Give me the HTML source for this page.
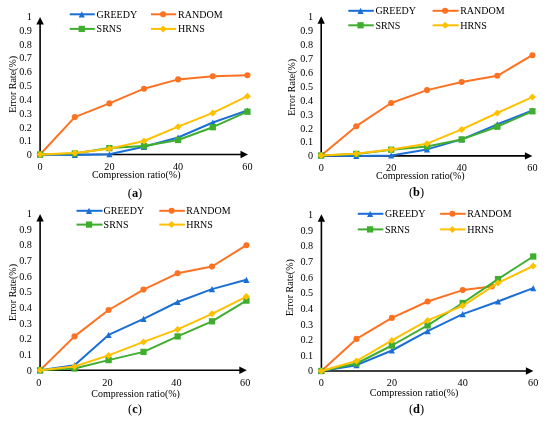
<!DOCTYPE html>
<html><head><meta charset="utf-8"><title>Error rate vs compression ratio</title>
<style>
html,body{margin:0;padding:0;background:#fff;}
body{width:550px;height:421px;overflow:hidden;}
svg{display:block;font-family:"Liberation Serif", serif;fill:#000;}
</style></head><body>
<svg width="550" height="421" viewBox="0 0 550 421">
<rect x="0" y="0" width="550" height="421" fill="#fff"/>
<g id="chart-a">
<line x1="40.1" y1="155.1" x2="40.1" y2="22.0" stroke="#000" stroke-width="1.6"/>
<polygon points="40.1,17.0 43.800000000000004,24.5 36.4,24.5" fill="#000"/>
<line x1="39.5" y1="154.5" x2="243.0" y2="154.5" stroke="#000" stroke-width="1.6"/>
<polygon points="248.0,154.5 240.5,150.8 240.5,158.2" fill="#000"/>
<text x="31.9" y="158.2" text-anchor="end" font-size="10.2">0</text>
<text x="31.9" y="144.4" text-anchor="end" font-size="10.2">0.1</text>
<text x="31.9" y="130.5" text-anchor="end" font-size="10.2">0.2</text>
<text x="31.9" y="116.7" text-anchor="end" font-size="10.2">0.3</text>
<text x="31.9" y="102.8" text-anchor="end" font-size="10.2">0.4</text>
<text x="31.9" y="89.0" text-anchor="end" font-size="10.2">0.5</text>
<text x="31.9" y="75.2" text-anchor="end" font-size="10.2">0.6</text>
<text x="31.9" y="61.3" text-anchor="end" font-size="10.2">0.7</text>
<text x="31.9" y="47.5" text-anchor="end" font-size="10.2">0.8</text>
<text x="31.9" y="33.6" text-anchor="end" font-size="10.2">0.9</text>
<text x="31.9" y="19.8" text-anchor="end" font-size="10.2">1</text>
<text x="40.1" y="169.8" text-anchor="middle" font-size="10.2">0</text>
<text x="109.4" y="169.8" text-anchor="middle" font-size="10.2">20</text>
<text x="178.1" y="169.8" text-anchor="middle" font-size="10.2">40</text>
<text x="247.4" y="169.8" text-anchor="middle" font-size="10.2">60</text>
<polyline points="40.1,154.5 74.8,154.9 109.4,154.2 144.0,146.8 178.1,137.5 212.8,122.5 247.4,110.4" fill="none" stroke="#1a6fd6" stroke-width="2.0" stroke-linejoin="round" stroke-linecap="round"/>
<polygon points="40.1,151.4 43.1,157.6 37.1,157.6" fill="#1a6fd6"/>
<polygon points="74.8,151.8 77.8,158.0 71.8,158.0" fill="#1a6fd6"/>
<polygon points="109.4,151.2 112.5,157.3 106.4,157.3" fill="#1a6fd6"/>
<polygon points="144.0,143.8 147.1,149.9 140.9,149.9" fill="#1a6fd6"/>
<polygon points="178.1,134.4 181.2,140.6 175.0,140.6" fill="#1a6fd6"/>
<polygon points="212.8,119.5 215.9,125.5 209.8,125.5" fill="#1a6fd6"/>
<polygon points="247.4,107.4 250.5,113.5 244.3,113.5" fill="#1a6fd6"/>
<polyline points="40.1,154.5 74.8,117.1 109.4,103.4 144.0,88.7 178.1,79.4 212.8,76.2 247.4,75.2" fill="none" stroke="#fd7222" stroke-width="2.0" stroke-linejoin="round" stroke-linecap="round"/>
<circle cx="40.1" cy="154.5" r="3.05" fill="#fd7222"/>
<circle cx="74.8" cy="117.1" r="3.05" fill="#fd7222"/>
<circle cx="109.4" cy="103.4" r="3.05" fill="#fd7222"/>
<circle cx="144.0" cy="88.7" r="3.05" fill="#fd7222"/>
<circle cx="178.1" cy="79.4" r="3.05" fill="#fd7222"/>
<circle cx="212.8" cy="76.2" r="3.05" fill="#fd7222"/>
<circle cx="247.4" cy="75.2" r="3.05" fill="#fd7222"/>
<polyline points="40.1,154.5 74.8,153.5 109.4,148.1 144.0,146.1 178.1,140.0 212.8,127.2 247.4,111.7" fill="none" stroke="#3fae2f" stroke-width="2.0" stroke-linejoin="round" stroke-linecap="round"/>
<rect x="36.96" y="151.36" width="6.28" height="6.28" fill="#3fae2f"/>
<rect x="71.66" y="150.36" width="6.28" height="6.28" fill="#3fae2f"/>
<rect x="106.26" y="144.96" width="6.28" height="6.28" fill="#3fae2f"/>
<rect x="140.86" y="142.96" width="6.28" height="6.28" fill="#3fae2f"/>
<rect x="174.96" y="136.86" width="6.28" height="6.28" fill="#3fae2f"/>
<rect x="209.66" y="124.06" width="6.28" height="6.28" fill="#3fae2f"/>
<rect x="244.26" y="108.56" width="6.28" height="6.28" fill="#3fae2f"/>
<polyline points="40.1,154.5 74.8,153.1 109.4,148.8 144.0,141.0 178.1,126.7 212.8,112.9 247.4,96.2" fill="none" stroke="#ffc000" stroke-width="2.0" stroke-linejoin="round" stroke-linecap="round"/>
<polygon points="40.1,151.0 43.6,154.5 40.1,158.0 36.6,154.5" fill="#ffc000"/>
<polygon points="74.8,149.6 78.3,153.1 74.8,156.6 71.3,153.1" fill="#ffc000"/>
<polygon points="109.4,145.3 112.9,148.8 109.4,152.3 105.9,148.8" fill="#ffc000"/>
<polygon points="144.0,137.5 147.5,141.0 144.0,144.5 140.5,141.0" fill="#ffc000"/>
<polygon points="178.1,123.2 181.6,126.7 178.1,130.2 174.6,126.7" fill="#ffc000"/>
<polygon points="212.8,109.4 216.3,112.9 212.8,116.4 209.3,112.9" fill="#ffc000"/>
<polygon points="247.4,92.7 250.9,96.2 247.4,99.7 243.9,96.2" fill="#ffc000"/>
<line x1="69.7" y1="14.3" x2="94.8" y2="14.3" stroke="#1a6fd6" stroke-width="2.0"/>
<polygon points="81.8,11.2 84.8,17.4 78.7,17.4" fill="#1a6fd6"/>
<text x="96.6" y="17.7" font-size="10">GREEDY</text>
<line x1="151.0" y1="14.3" x2="176.1" y2="14.3" stroke="#fd7222" stroke-width="2.0"/>
<circle cx="163.1" cy="14.3" r="3.05" fill="#fd7222"/>
<text x="178.1" y="17.7" font-size="10">RANDOM</text>
<line x1="69.7" y1="28.9" x2="94.8" y2="28.9" stroke="#3fae2f" stroke-width="2.0"/>
<rect x="78.61" y="25.76" width="6.28" height="6.28" fill="#3fae2f"/>
<text x="96.6" y="32.3" font-size="10">SRNS</text>
<line x1="151.0" y1="28.9" x2="176.1" y2="28.9" stroke="#ffc000" stroke-width="2.0"/>
<polygon points="163.1,25.4 166.6,28.9 163.1,32.4 159.5,28.9" fill="#ffc000"/>
<text x="178.1" y="32.3" font-size="10">HRNS</text>
<text x="136.2" y="178.3" text-anchor="middle" font-size="10">Compression ratio(%)</text>
<text transform="translate(15.7,84.4) rotate(-90)" text-anchor="middle" font-size="10">Error Rate(%)</text>
<text x="135.0" y="196.6" text-anchor="middle" font-size="12.4">(<tspan font-weight="bold">a</tspan>)</text>
</g>
<g id="chart-b">
<line x1="321.2" y1="156.5" x2="321.2" y2="21.3" stroke="#000" stroke-width="1.6"/>
<polygon points="321.2,16.3 324.9,23.8 317.5,23.8" fill="#000"/>
<line x1="320.59999999999997" y1="155.9" x2="527.4" y2="155.9" stroke="#000" stroke-width="1.6"/>
<polygon points="532.4,155.9 524.9,152.20000000000002 524.9,159.6" fill="#000"/>
<text x="313.0" y="159.4" text-anchor="end" font-size="10.2">0</text>
<text x="313.0" y="145.4" text-anchor="end" font-size="10.2">0.1</text>
<text x="313.0" y="131.5" text-anchor="end" font-size="10.2">0.2</text>
<text x="313.0" y="117.5" text-anchor="end" font-size="10.2">0.3</text>
<text x="313.0" y="103.6" text-anchor="end" font-size="10.2">0.4</text>
<text x="313.0" y="89.6" text-anchor="end" font-size="10.2">0.5</text>
<text x="313.0" y="75.6" text-anchor="end" font-size="10.2">0.6</text>
<text x="313.0" y="61.7" text-anchor="end" font-size="10.2">0.7</text>
<text x="313.0" y="47.7" text-anchor="end" font-size="10.2">0.8</text>
<text x="313.0" y="33.8" text-anchor="end" font-size="10.2">0.9</text>
<text x="313.0" y="19.8" text-anchor="end" font-size="10.2">1</text>
<text x="321.2" y="171.0" text-anchor="middle" font-size="10.2">0</text>
<text x="391.2" y="171.0" text-anchor="middle" font-size="10.2">20</text>
<text x="461.7" y="171.0" text-anchor="middle" font-size="10.2">40</text>
<text x="532.4" y="171.0" text-anchor="middle" font-size="10.2">60</text>
<polyline points="321.2,155.5 356.3,156.0 391.2,155.5 427.0,149.4 461.7,139.4 497.3,124.3 532.4,110.5" fill="none" stroke="#1a6fd6" stroke-width="2.0" stroke-linejoin="round" stroke-linecap="round"/>
<polygon points="321.2,152.4 324.2,158.6 318.1,158.6" fill="#1a6fd6"/>
<polygon points="356.3,152.9 359.4,159.1 353.2,159.1" fill="#1a6fd6"/>
<polygon points="391.2,152.4 394.2,158.6 388.1,158.6" fill="#1a6fd6"/>
<polygon points="427.0,146.3 430.1,152.5 423.9,152.5" fill="#1a6fd6"/>
<polygon points="461.7,136.3 464.8,142.5 458.6,142.5" fill="#1a6fd6"/>
<polygon points="497.3,121.2 500.4,127.3 494.2,127.3" fill="#1a6fd6"/>
<polygon points="532.4,107.5 535.4,113.5 529.4,113.5" fill="#1a6fd6"/>
<polyline points="321.2,155.5 356.3,126.2 391.2,103.0 427.0,90.1 461.7,82.0 497.3,75.8 532.4,55.2" fill="none" stroke="#fd7222" stroke-width="2.0" stroke-linejoin="round" stroke-linecap="round"/>
<circle cx="321.2" cy="155.5" r="3.05" fill="#fd7222"/>
<circle cx="356.3" cy="126.2" r="3.05" fill="#fd7222"/>
<circle cx="391.2" cy="103.0" r="3.05" fill="#fd7222"/>
<circle cx="427.0" cy="90.1" r="3.05" fill="#fd7222"/>
<circle cx="461.7" cy="82.0" r="3.05" fill="#fd7222"/>
<circle cx="497.3" cy="75.8" r="3.05" fill="#fd7222"/>
<circle cx="532.4" cy="55.2" r="3.05" fill="#fd7222"/>
<polyline points="321.2,155.5 356.3,153.9 391.2,149.7 427.0,146.4 461.7,139.4 497.3,126.7 532.4,111.3" fill="none" stroke="#3fae2f" stroke-width="2.0" stroke-linejoin="round" stroke-linecap="round"/>
<rect x="318.06" y="152.36" width="6.28" height="6.28" fill="#3fae2f"/>
<rect x="353.16" y="150.76" width="6.28" height="6.28" fill="#3fae2f"/>
<rect x="388.06" y="146.56" width="6.28" height="6.28" fill="#3fae2f"/>
<rect x="423.86" y="143.26" width="6.28" height="6.28" fill="#3fae2f"/>
<rect x="458.56" y="136.26" width="6.28" height="6.28" fill="#3fae2f"/>
<rect x="494.16" y="123.56" width="6.28" height="6.28" fill="#3fae2f"/>
<rect x="529.26" y="108.16" width="6.28" height="6.28" fill="#3fae2f"/>
<polyline points="321.2,155.5 356.3,153.7 391.2,149.4 427.0,143.7 461.7,129.4 497.3,113.0 532.4,97.1" fill="none" stroke="#ffc000" stroke-width="2.0" stroke-linejoin="round" stroke-linecap="round"/>
<polygon points="321.2,152.0 324.7,155.5 321.2,159.0 317.7,155.5" fill="#ffc000"/>
<polygon points="356.3,150.2 359.8,153.7 356.3,157.2 352.8,153.7" fill="#ffc000"/>
<polygon points="391.2,145.9 394.7,149.4 391.2,152.9 387.7,149.4" fill="#ffc000"/>
<polygon points="427.0,140.2 430.5,143.7 427.0,147.2 423.5,143.7" fill="#ffc000"/>
<polygon points="461.7,125.9 465.2,129.4 461.7,132.9 458.2,129.4" fill="#ffc000"/>
<polygon points="497.3,109.5 500.8,113.0 497.3,116.5 493.8,113.0" fill="#ffc000"/>
<polygon points="532.4,93.6 535.9,97.1 532.4,100.6 528.9,97.1" fill="#ffc000"/>
<line x1="348.3" y1="10.8" x2="373.8" y2="10.8" stroke="#1a6fd6" stroke-width="2.0"/>
<polygon points="360.6,7.8 363.6,13.9 357.5,13.9" fill="#1a6fd6"/>
<text x="375.4" y="14.2" font-size="10">GREEDY</text>
<line x1="432.6" y1="10.8" x2="458.7" y2="10.8" stroke="#fd7222" stroke-width="2.0"/>
<circle cx="445.1" cy="10.8" r="3.05" fill="#fd7222"/>
<text x="460.2" y="14.2" font-size="10">RANDOM</text>
<line x1="348.3" y1="25.3" x2="373.8" y2="25.3" stroke="#3fae2f" stroke-width="2.0"/>
<rect x="357.41" y="22.16" width="6.28" height="6.28" fill="#3fae2f"/>
<text x="375.4" y="28.7" font-size="10">SRNS</text>
<line x1="432.6" y1="25.3" x2="458.7" y2="25.3" stroke="#ffc000" stroke-width="2.0"/>
<polygon points="445.1,21.8 448.7,25.3 445.1,28.8 441.6,25.3" fill="#ffc000"/>
<text x="460.2" y="28.7" font-size="10">HRNS</text>
<text x="420.4" y="178.8" text-anchor="middle" font-size="10">Compression ratio(%)</text>
<text transform="translate(295.1,87.3) rotate(-90)" text-anchor="middle" font-size="10">Error Rate(%)</text>
<text x="416.5" y="196.1" text-anchor="middle" font-size="12.4">(<tspan font-weight="bold">b</tspan>)</text>
</g>
<g id="chart-c">
<line x1="40.1" y1="370.90000000000003" x2="40.1" y2="219.0" stroke="#000" stroke-width="1.6"/>
<polygon points="40.1,214.0 43.800000000000004,221.5 36.4,221.5" fill="#000"/>
<line x1="39.5" y1="370.3" x2="241.8" y2="370.3" stroke="#000" stroke-width="1.6"/>
<polygon points="246.8,370.3 239.3,366.6 239.3,374.0" fill="#000"/>
<text x="31.9" y="373.5" text-anchor="end" font-size="10.2">0</text>
<text x="31.9" y="357.9" text-anchor="end" font-size="10.2">0.1</text>
<text x="31.9" y="342.2" text-anchor="end" font-size="10.2">0.2</text>
<text x="31.9" y="326.6" text-anchor="end" font-size="10.2">0.3</text>
<text x="31.9" y="310.9" text-anchor="end" font-size="10.2">0.4</text>
<text x="31.9" y="295.3" text-anchor="end" font-size="10.2">0.5</text>
<text x="31.9" y="279.7" text-anchor="end" font-size="10.2">0.6</text>
<text x="31.9" y="264.0" text-anchor="end" font-size="10.2">0.7</text>
<text x="31.9" y="248.4" text-anchor="end" font-size="10.2">0.8</text>
<text x="31.9" y="232.7" text-anchor="end" font-size="10.2">0.9</text>
<text x="31.9" y="217.1" text-anchor="end" font-size="10.2">1</text>
<text x="38.9" y="385.7" text-anchor="middle" font-size="10.2">0</text>
<text x="107.4" y="385.7" text-anchor="middle" font-size="10.2">20</text>
<text x="176.4" y="385.7" text-anchor="middle" font-size="10.2">40</text>
<text x="245.2" y="385.7" text-anchor="middle" font-size="10.2">60</text>
<polyline points="40.1,370.3 74.5,365.2 108.6,334.9 143.5,318.8 177.6,302.0 212.0,289.1 246.4,279.8" fill="none" stroke="#1a6fd6" stroke-width="2.0" stroke-linejoin="round" stroke-linecap="round"/>
<polygon points="40.1,367.2 43.1,373.4 37.1,373.4" fill="#1a6fd6"/>
<polygon points="74.5,362.1 77.5,368.2 71.5,368.2" fill="#1a6fd6"/>
<polygon points="108.6,331.8 111.6,337.9 105.5,337.9" fill="#1a6fd6"/>
<polygon points="143.5,315.8 146.6,321.9 140.4,321.9" fill="#1a6fd6"/>
<polygon points="177.6,298.9 180.7,305.1 174.5,305.1" fill="#1a6fd6"/>
<polygon points="212.0,286.1 215.1,292.2 208.9,292.2" fill="#1a6fd6"/>
<polygon points="246.4,276.8 249.5,282.9 243.3,282.9" fill="#1a6fd6"/>
<polyline points="40.1,370.3 74.5,336.4 108.6,310.0 143.5,289.6 177.6,273.3 212.0,266.5 246.4,245.2" fill="none" stroke="#fd7222" stroke-width="2.0" stroke-linejoin="round" stroke-linecap="round"/>
<circle cx="40.1" cy="370.3" r="3.05" fill="#fd7222"/>
<circle cx="74.5" cy="336.4" r="3.05" fill="#fd7222"/>
<circle cx="108.6" cy="310.0" r="3.05" fill="#fd7222"/>
<circle cx="143.5" cy="289.6" r="3.05" fill="#fd7222"/>
<circle cx="177.6" cy="273.3" r="3.05" fill="#fd7222"/>
<circle cx="212.0" cy="266.5" r="3.05" fill="#fd7222"/>
<circle cx="246.4" cy="245.2" r="3.05" fill="#fd7222"/>
<polyline points="40.1,370.3 74.5,368.5 108.6,360.1 143.5,351.9 177.6,336.4 212.0,321.3 246.4,300.6" fill="none" stroke="#3fae2f" stroke-width="2.0" stroke-linejoin="round" stroke-linecap="round"/>
<rect x="36.96" y="367.16" width="6.28" height="6.28" fill="#3fae2f"/>
<rect x="71.36" y="365.36" width="6.28" height="6.28" fill="#3fae2f"/>
<rect x="105.46" y="356.96" width="6.28" height="6.28" fill="#3fae2f"/>
<rect x="140.36" y="348.76" width="6.28" height="6.28" fill="#3fae2f"/>
<rect x="174.46" y="333.26" width="6.28" height="6.28" fill="#3fae2f"/>
<rect x="208.86" y="318.16" width="6.28" height="6.28" fill="#3fae2f"/>
<rect x="243.26" y="297.46" width="6.28" height="6.28" fill="#3fae2f"/>
<polyline points="40.1,370.3 74.5,366.5 108.6,355.4 143.5,341.9 177.6,329.4 212.0,313.8 246.4,296.6" fill="none" stroke="#ffc000" stroke-width="2.0" stroke-linejoin="round" stroke-linecap="round"/>
<polygon points="40.1,366.8 43.6,370.3 40.1,373.8 36.6,370.3" fill="#ffc000"/>
<polygon points="74.5,363.0 78.0,366.5 74.5,370.0 71.0,366.5" fill="#ffc000"/>
<polygon points="108.6,351.9 112.1,355.4 108.6,358.9 105.1,355.4" fill="#ffc000"/>
<polygon points="143.5,338.4 147.0,341.9 143.5,345.4 140.0,341.9" fill="#ffc000"/>
<polygon points="177.6,325.9 181.1,329.4 177.6,332.9 174.1,329.4" fill="#ffc000"/>
<polygon points="212.0,310.3 215.5,313.8 212.0,317.3 208.5,313.8" fill="#ffc000"/>
<polygon points="246.4,293.1 249.9,296.6 246.4,300.1 242.9,296.6" fill="#ffc000"/>
<line x1="76.5" y1="210.8" x2="102.6" y2="210.8" stroke="#1a6fd6" stroke-width="2.0"/>
<polygon points="89.0,207.8 92.1,213.9 86.0,213.9" fill="#1a6fd6"/>
<text x="103.6" y="214.2" font-size="10">GREEDY</text>
<line x1="159.3" y1="210.8" x2="184.9" y2="210.8" stroke="#fd7222" stroke-width="2.0"/>
<circle cx="171.6" cy="210.8" r="3.05" fill="#fd7222"/>
<text x="186.2" y="214.2" font-size="10">RANDOM</text>
<line x1="76.5" y1="224.6" x2="102.6" y2="224.6" stroke="#3fae2f" stroke-width="2.0"/>
<rect x="85.91" y="221.46" width="6.28" height="6.28" fill="#3fae2f"/>
<text x="103.6" y="228.0" font-size="10">SRNS</text>
<line x1="159.3" y1="224.6" x2="184.9" y2="224.6" stroke="#ffc000" stroke-width="2.0"/>
<polygon points="171.6,221.1 175.1,224.6 171.6,228.1 168.1,224.6" fill="#ffc000"/>
<text x="186.2" y="228.0" font-size="10">HRNS</text>
<text x="135.6" y="396.6" text-anchor="middle" font-size="10">Compression ratio(%)</text>
<text transform="translate(15.7,292.5) rotate(-90)" text-anchor="middle" font-size="10">Error Rate(%)</text>
<text x="135.0" y="413.2" text-anchor="middle" font-size="12.4">(<tspan font-weight="bold">c</tspan>)</text>
</g>
<g id="chart-d">
<line x1="321.4" y1="371.6" x2="321.4" y2="219.3" stroke="#000" stroke-width="1.6"/>
<polygon points="321.4,214.3 325.09999999999997,221.8 317.7,221.8" fill="#000"/>
<line x1="320.79999999999995" y1="371.0" x2="528.4" y2="371.0" stroke="#000" stroke-width="1.6"/>
<polygon points="533.4,371.0 525.9,367.3 525.9,374.7" fill="#000"/>
<text x="313.2" y="374.4" text-anchor="end" font-size="10.2">0</text>
<text x="313.2" y="358.8" text-anchor="end" font-size="10.2">0.1</text>
<text x="313.2" y="343.1" text-anchor="end" font-size="10.2">0.2</text>
<text x="313.2" y="327.5" text-anchor="end" font-size="10.2">0.3</text>
<text x="313.2" y="311.8" text-anchor="end" font-size="10.2">0.4</text>
<text x="313.2" y="296.2" text-anchor="end" font-size="10.2">0.5</text>
<text x="313.2" y="280.6" text-anchor="end" font-size="10.2">0.6</text>
<text x="313.2" y="264.9" text-anchor="end" font-size="10.2">0.7</text>
<text x="313.2" y="249.3" text-anchor="end" font-size="10.2">0.8</text>
<text x="313.2" y="233.6" text-anchor="end" font-size="10.2">0.9</text>
<text x="313.2" y="218.0" text-anchor="end" font-size="10.2">1</text>
<text x="321.4" y="385.8" text-anchor="middle" font-size="10.2">0</text>
<text x="391.9" y="385.8" text-anchor="middle" font-size="10.2">20</text>
<text x="462.7" y="385.8" text-anchor="middle" font-size="10.2">40</text>
<text x="533.2" y="385.8" text-anchor="middle" font-size="10.2">60</text>
<polyline points="321.4,371.0 356.5,365.2 391.9,350.5 427.6,331.2 462.7,314.1 498.0,301.5 533.2,288.1" fill="none" stroke="#1a6fd6" stroke-width="2.0" stroke-linejoin="round" stroke-linecap="round"/>
<polygon points="321.4,367.9 324.4,374.1 318.3,374.1" fill="#1a6fd6"/>
<polygon points="356.5,362.1 359.6,368.2 353.4,368.2" fill="#1a6fd6"/>
<polygon points="391.9,347.4 394.9,353.6 388.8,353.6" fill="#1a6fd6"/>
<polygon points="427.6,328.1 430.7,334.2 424.6,334.2" fill="#1a6fd6"/>
<polygon points="462.7,311.1 465.8,317.2 459.6,317.2" fill="#1a6fd6"/>
<polygon points="498.0,298.4 501.1,304.6 494.9,304.6" fill="#1a6fd6"/>
<polygon points="533.2,285.1 536.2,291.2 530.2,291.2" fill="#1a6fd6"/>
<polyline points="321.4,371.0 356.5,338.9 391.9,317.9 427.6,301.5 462.7,290.1 491.8,286.4" fill="none" stroke="#fd7222" stroke-width="2.0" stroke-linejoin="round" stroke-linecap="round"/>
<circle cx="321.4" cy="371.0" r="3.05" fill="#fd7222"/>
<circle cx="356.5" cy="338.9" r="3.05" fill="#fd7222"/>
<circle cx="391.9" cy="317.9" r="3.05" fill="#fd7222"/>
<circle cx="427.6" cy="301.5" r="3.05" fill="#fd7222"/>
<circle cx="462.7" cy="290.1" r="3.05" fill="#fd7222"/>
<circle cx="491.8" cy="286.4" r="3.05" fill="#fd7222"/>
<polyline points="321.4,371.0 356.5,363.5 391.9,345.5 427.6,325.4 462.7,303.0 498.0,279.1 533.2,256.5" fill="none" stroke="#3fae2f" stroke-width="2.0" stroke-linejoin="round" stroke-linecap="round"/>
<rect x="318.26" y="367.86" width="6.28" height="6.28" fill="#3fae2f"/>
<rect x="353.36" y="360.36" width="6.28" height="6.28" fill="#3fae2f"/>
<rect x="388.76" y="342.36" width="6.28" height="6.28" fill="#3fae2f"/>
<rect x="424.46" y="322.26" width="6.28" height="6.28" fill="#3fae2f"/>
<rect x="459.56" y="299.86" width="6.28" height="6.28" fill="#3fae2f"/>
<rect x="494.86" y="275.96" width="6.28" height="6.28" fill="#3fae2f"/>
<rect x="530.06" y="253.36" width="6.28" height="6.28" fill="#3fae2f"/>
<polyline points="321.4,371.0 356.5,361.0 391.9,340.4 427.6,320.4 462.7,305.8 498.0,282.9 533.2,266.0" fill="none" stroke="#ffc000" stroke-width="2.0" stroke-linejoin="round" stroke-linecap="round"/>
<polygon points="321.4,367.5 324.9,371.0 321.4,374.5 317.9,371.0" fill="#ffc000"/>
<polygon points="356.5,357.5 360.0,361.0 356.5,364.5 353.0,361.0" fill="#ffc000"/>
<polygon points="391.9,336.9 395.4,340.4 391.9,343.9 388.4,340.4" fill="#ffc000"/>
<polygon points="427.6,316.9 431.1,320.4 427.6,323.9 424.1,320.4" fill="#ffc000"/>
<polygon points="462.7,302.3 466.2,305.8 462.7,309.3 459.2,305.8" fill="#ffc000"/>
<polygon points="498.0,279.4 501.5,282.9 498.0,286.4 494.5,282.9" fill="#ffc000"/>
<polygon points="533.2,262.5 536.7,266.0 533.2,269.5 529.7,266.0" fill="#ffc000"/>
<line x1="357.8" y1="213.8" x2="383.4" y2="213.8" stroke="#1a6fd6" stroke-width="2.0"/>
<polygon points="370.1,210.8 373.2,216.9 367.1,216.9" fill="#1a6fd6"/>
<text x="384.9" y="217.2" font-size="10">GREEDY</text>
<line x1="440.1" y1="213.8" x2="465.7" y2="213.8" stroke="#fd7222" stroke-width="2.0"/>
<circle cx="452.4" cy="213.8" r="3.05" fill="#fd7222"/>
<text x="467.2" y="217.2" font-size="10">RANDOM</text>
<line x1="357.8" y1="229.4" x2="383.4" y2="229.4" stroke="#3fae2f" stroke-width="2.0"/>
<rect x="366.96" y="226.26" width="6.28" height="6.28" fill="#3fae2f"/>
<text x="384.9" y="232.8" font-size="10">SRNS</text>
<line x1="440.1" y1="229.4" x2="465.7" y2="229.4" stroke="#ffc000" stroke-width="2.0"/>
<polygon points="452.4,225.9 455.9,229.4 452.4,232.9 448.9,229.4" fill="#ffc000"/>
<text x="467.2" y="232.8" font-size="10">HRNS</text>
<text x="414.1" y="396.3" text-anchor="middle" font-size="10">Compression ratio(%)</text>
<text transform="translate(293.1,287.6) rotate(-90)" text-anchor="middle" font-size="10">Error Rate(%)</text>
<text x="416.5" y="413.4" text-anchor="middle" font-size="12.4">(<tspan font-weight="bold">d</tspan>)</text>
</g>
</svg>
</body></html>
